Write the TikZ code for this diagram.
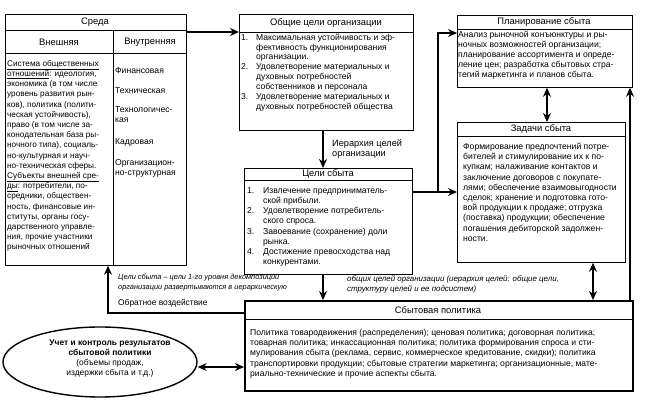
\documentclass[tikz,border=0pt]{standalone}
\usepackage{fontspec}
\setmainfont{Liberation Sans}
\usetikzlibrary{arrows.meta,shapes.geometric,calc}
\begin{document}
\begin{tikzpicture}[x=1pt,y=-1pt,
 box/.style={draw, line width=0.8pt, anchor=north west, inner sep=0pt, rectangle},
 txt/.style={font=\fontsize{8.6}{10.2}\selectfont, align=left, inner sep=0pt, anchor=north west},
 hdr/.style={font=\fontsize{9.4}{10}\selectfont, inner sep=0pt},
 ital/.style={font=\fontsize{7.4}{10}\selectfont\itshape, align=left, inner sep=0pt, anchor=north west},
 arr/.style={line width=1.4pt, -{Stealth[length=9pt,width=8pt]}},
 darr/.style={line width=1.4pt, {Stealth[length=9pt,width=8pt]}-{Stealth[length=9pt,width=8pt]}},
 sep/.style={line width=0.8pt}]
\fill[white] (0,0) rectangle (657,406);
\useasboundingbox (0,0) rectangle (657,406);

% ---------- boxes ----------
\node[box, minimum width=181pt, minimum height=251pt] (sreda) at (5,14) {};
\draw[sep] ($(sreda.north west)+(0,16)$) -- ($(sreda.north east)+(0,16)$);
\draw[sep] ($(sreda.north west)+(0,39)$) -- ($(sreda.north east)+(0,39)$);
\draw[sep] ($(sreda.north west)+(108,16)$) -- ($(sreda.south west)+(108,0)$);
\node[hdr] (sredaH) at (95,22) {Среда};
\node[hdr] (extH) at (59,42) {Внешняя};
\node[hdr] (intH) at (150,42) {Внутренняя};

\node[txt, font=\fontsize{8.2}{10.2}\selectfont] (extT) at (7,60) {\underline{Система общественных}\\
\underline{отношений}: идеология,\\
экономика (в том числе\\
уровень развития рын-\\
ков), политика (полити-\\
ческая устойчивость),\\
право (в том числе за-\\
конодательная база ры-\\
ночного типа), социаль-\\
но-культурная и науч-\\
но-техническая сферы.\\
\underline{Субъекты внешней сре-}\\
\underline{ды}: потребители, по-\\
средники, обществен-\\
ность, финансовые ин-\\
ституты, органы госу-\\
дарственного управле-\\
ния, прочие участники\\
рыночных отношений};

\node[txt] (i1) at (115,67) {Финансовая};
\node[txt] (i2) at (115,87) {Техническая};
\node[txt] (i3) at (115,106) {Технологичес-\\кая};
\node[txt] (i4) at (115,138) {Кадровая};
\node[txt] (i5) at (115,159) {Организацион-\\но-структурная};

\node[box, minimum width=174pt, minimum height=116pt] (goals) at (239,14) {};
\draw[sep] ($(goals.north west)+(0,18)$) -- ($(goals.north east)+(0,18)$);
\node[hdr] (goalsH) at (326,23) {Общие цели организации};
\node[txt, font=\fontsize{8.6}{9.9}\selectfont] (goalsT) at (241,33) {\begin{tabular}{@{}p{15pt}@{}l@{}}
1. & Максимальная устойчивость и эф-\\
 & фективность функционирования\\
 & организации.\\
2. & Удовлетворение материальных и\\
 & духовных потребностей\\
 & собственников и персонала\\
3. & Удовлетворение материальных и\\
 & духовных потребностей общества
\end{tabular}};

\node[box, minimum width=175pt, minimum height=72pt] (plan) at (457,15) {};
\draw[sep] ($(plan.north west)+(0,14)$) -- ($(plan.north east)+(0,14)$);
\node[hdr] (planH) at (544,22) {Планирование сбыта};
\node[txt] (planT) at (458,30.5) {Анализ рыночной конъюнктуры и ры-\\
ночных возможностей организации;\\
планирование ассортимента и опреде-\\
ление цен; разработка сбытовых стра-\\
тегий маркетинга и планов сбыта.};

\node[box, minimum width=168pt, minimum height=140pt] (tasks) at (457,122) {};
\draw[sep] ($(tasks.north west)+(0,14)$) -- ($(tasks.north east)+(0,14)$);
\node[hdr] (tasksH) at (541,129) {Задачи сбыта};
\node[txt] (tasksT) at (463,143) {Формирование предпочтений потре-\\
бителей и стимулирование их к по-\\
купкам; налаживание контактов и\\
заключение договоров с покупате-\\
лями; обеспечение взаимовыгодности\\
сделок; хранение и подготовка гото-\\
вой продукции к продаже; отгрузка\\
(поставка) продукции; обеспечение\\
погашения дебиторской задолжен-\\
ности.};

\node[box, minimum width=168pt, minimum height=106pt] (salesgoals) at (244,168) {};
\draw[sep] ($(salesgoals.north west)+(0,12)$) -- ($(salesgoals.north east)+(0,12)$);
\node[hdr] (sgH) at (328,174) {Цели сбыта};
\node[txt] (sgT) at (247,186) {\begin{tabular}{@{}p{16pt}@{}l@{}}
1. & Извлечение предприниматель-\\
 & ской прибыли.\\
2. & Удовлетворение потребитель-\\
 & ского спроса.\\
3. & Завоевание (сохранение) доли\\
 & рынка.\\
4. & Достижение превосходства над\\
 & конкурентами.
\end{tabular}};

\node[box, line width=1.6pt, minimum width=388pt, minimum height=90pt] (policy) at (244,300) {};
\draw[sep] ($(policy.north west)+(0,19)$) -- ($(policy.north east)+(0,19)$);
\node[hdr] (policyH) at (438,310) {Сбытовая политика};
\node[txt] (policyT) at (250,329) {Политика товародвижения (распределения); ценовая политика; договорная политика;\\
товарная политика; инкассационная политика; политика формирования спроса и сти-\\
мулирования сбыта (реклама, сервис, коммерческое кредитование, скидки); политика\\
транспортировки продукции; сбытовые стратегии маркетинга; организационные, мате-\\
риально-технические и прочие аспекты сбыта.};

\node[draw, ellipse, line width=1.4pt, minimum width=194pt, minimum height=70pt, inner sep=0pt] (ctrl) at (100,362) {};
\node[font=\fontsize{8.4}{10}\selectfont, align=center, inner sep=0pt] (ctrlT) at (110,358) {\textbf{Учет и контроль результатов}\\\textbf{сбытовой политики}\\(объемы продаж,\\издержки сбыта и т.д.)};

% ---------- labels ----------
\node[txt, font=\fontsize{9.2}{10}\selectfont] (hier) at (332,139) {Иерархия целей\\организации};
\node[ital] (it1) at (118,274) {Цели сбыта – цели 1-го уровня декомпозиции\\организации развертываются в иерархическую};
\node[ital, font=\fontsize{7.9}{10}\selectfont\itshape] (it2) at (347,275) {общих целей организации (иерархия целей: общие цели,\\структуру целей и ее подсистем)};
\node[txt, font=\fontsize{8.4}{10}\selectfont] (fb) at (118,299) {Обратное воздействие};

% ---------- connectors ----------
\coordinate (r32) at (0,32);
\coordinate (r33) at (0,33);
\coordinate (r192) at (0,192);
\coordinate (r313) at (0,313);
\coordinate (r367) at (0,367);
\coordinate (c323) at (323,0);
\coordinate (c547) at (547,0);
\coordinate (c593) at (593,0);
\coordinate (c630) at (630,0);
\coordinate (c108) at (108,0);
\coordinate (jn) at (438,192);

\draw[arr] (sreda.east |- r32) -- (goals.west |- r32);
\draw[arr] (goals.south -| c323) -- (salesgoals.north -| c323);
\draw[arr] (salesgoals.east |- r192) -- (tasks.west |- r192);
\draw[arr] (jn) |- (plan.west |- r33);
\draw[darr] (plan.south -| c547) -- (tasks.north -| c547);
\draw[arr] (policy.north -| c630) -- (plan.south -| c630);
\draw[darr] (tasks.south -| c593) -- (policy.north -| c593);
\draw[arr] (salesgoals.south -| c323) -- (policy.north -| c323);
\draw[arr] (policy.west |- r313) -| (sreda.south -| c108);
\draw[darr] (ctrl.east |- r367) -- (policy.west |- r367);
\end{tikzpicture}
\end{document}
